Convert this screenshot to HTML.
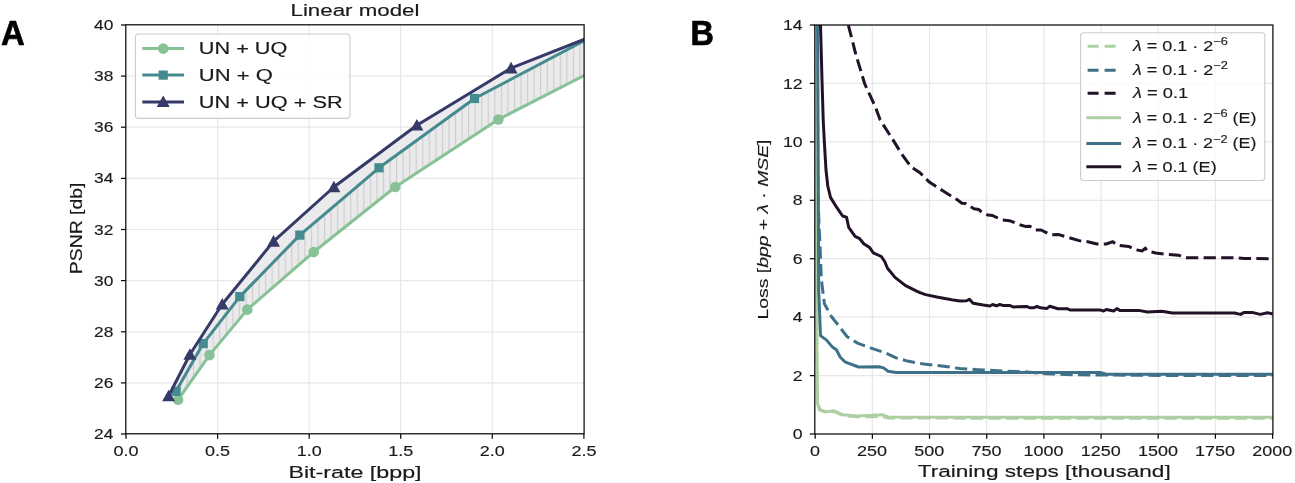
<!DOCTYPE html>
<html lang="en">
<head>
<meta charset="utf-8">
<title>Figure: rate-distortion and training loss</title>
<style>
html,body{margin:0;padding:0;background:#ffffff;}
body{width:1295px;height:483px;overflow:hidden;font-family:"Liberation Sans", sans-serif;}
svg{display:block;font-family:"Liberation Sans", sans-serif;will-change:transform;}
text{stroke:#1a1a1a;stroke-width:0.15px;stroke-linejoin:round;}
</style>
</head>
<body>
<svg width="1295" height="483" viewBox="0 0 1295 483">
<rect x="0" y="0" width="1295" height="483" fill="#ffffff"/>
<clipPath id="cl"><rect x="126.0" y="25.0" width="457.9" height="409.0"/></clipPath>
<pattern id="hatch" patternUnits="userSpaceOnUse" x="271.55" y="0" width="6.55" height="10"><rect x="0" y="0" width="6.55" height="10" fill="#eaeaeb"/><rect x="0" y="0" width="1.1" height="10" fill="#cdcdcf"/></pattern>
<line x1="217.6" y1="25.0" x2="217.6" y2="434.0" stroke="#e7e7e7" stroke-width="1.2"/>
<line x1="309.2" y1="25.0" x2="309.2" y2="434.0" stroke="#e7e7e7" stroke-width="1.2"/>
<line x1="400.7" y1="25.0" x2="400.7" y2="434.0" stroke="#e7e7e7" stroke-width="1.2"/>
<line x1="492.3" y1="25.0" x2="492.3" y2="434.0" stroke="#e7e7e7" stroke-width="1.2"/>
<line x1="126.0" y1="382.9" x2="583.9" y2="382.9" stroke="#e7e7e7" stroke-width="1.2"/>
<line x1="126.0" y1="331.8" x2="583.9" y2="331.8" stroke="#e7e7e7" stroke-width="1.2"/>
<line x1="126.0" y1="280.6" x2="583.9" y2="280.6" stroke="#e7e7e7" stroke-width="1.2"/>
<line x1="126.0" y1="229.5" x2="583.9" y2="229.5" stroke="#e7e7e7" stroke-width="1.2"/>
<line x1="126.0" y1="178.4" x2="583.9" y2="178.4" stroke="#e7e7e7" stroke-width="1.2"/>
<line x1="126.0" y1="127.2" x2="583.9" y2="127.2" stroke="#e7e7e7" stroke-width="1.2"/>
<line x1="126.0" y1="76.1" x2="583.9" y2="76.1" stroke="#e7e7e7" stroke-width="1.2"/>
<g clip-path="url(#cl)">
<polygon points="168.6,396.0 189.9,354.5 222.2,304.2 273.5,241.4 333.9,187.0 416.9,125.2 511.1,68.1 584.0,39.4 600.0,33.0 600.0,32.5 584.0,40.9 474.5,98.5 379.0,167.8 299.8,235.1 239.8,296.6 203.2,343.6 176.0,391.3" fill="#ebebed"/>
<polygon points="176.0,391.3 203.2,343.6 239.8,296.6 299.8,235.1 379.0,167.8 474.5,98.5 584.0,40.9 600.0,32.5 600.0,67.5 584.0,75.5 498.3,119.5 395.3,187.0 313.7,252.0 247.3,309.6 209.5,355.1 178.1,399.7" fill="url(#hatch)"/>
<polyline points="178.1,399.7 209.5,355.1 247.3,309.6 313.7,252.0 395.3,187.0 498.3,119.5 584.0,75.5 600.0,67.5" fill="none" stroke="#86c296" stroke-width="3.0" stroke-linejoin="round"/>
<circle cx="178.1" cy="399.7" r="5.3" fill="#86c296"/>
<circle cx="209.5" cy="355.1" r="5.3" fill="#86c296"/>
<circle cx="247.3" cy="309.6" r="5.3" fill="#86c296"/>
<circle cx="313.7" cy="252.0" r="5.3" fill="#86c296"/>
<circle cx="395.3" cy="187.0" r="5.3" fill="#86c296"/>
<circle cx="498.3" cy="119.5" r="5.3" fill="#86c296"/>
<polyline points="176.0,391.3 203.2,343.6 239.8,296.6 299.8,235.1 379.0,167.8 474.5,98.5 584.0,40.9 600.0,32.5" fill="none" stroke="#448a8e" stroke-width="3.0" stroke-linejoin="round"/>
<rect x="171.4" y="386.7" width="9.2" height="9.2" fill="#448a8e"/>
<rect x="198.6" y="339.0" width="9.2" height="9.2" fill="#448a8e"/>
<rect x="235.2" y="292.0" width="9.2" height="9.2" fill="#448a8e"/>
<rect x="295.2" y="230.5" width="9.2" height="9.2" fill="#448a8e"/>
<rect x="374.4" y="163.2" width="9.2" height="9.2" fill="#448a8e"/>
<rect x="469.9" y="93.9" width="9.2" height="9.2" fill="#448a8e"/>
<polyline points="168.6,396.0 189.9,354.5 222.2,304.2 273.5,241.4 333.9,187.0 416.9,125.2 511.1,68.1 584.0,39.4 600.0,33.0" fill="none" stroke="#363a68" stroke-width="3.0" stroke-linejoin="round"/>
<polygon points="168.6,389.7 162.1,401.3 175.1,401.3" fill="#363a68"/>
<polygon points="189.9,348.2 183.4,359.8 196.4,359.8" fill="#363a68"/>
<polygon points="222.2,297.9 215.7,309.5 228.7,309.5" fill="#363a68"/>
<polygon points="273.5,235.1 267.0,246.7 280.0,246.7" fill="#363a68"/>
<polygon points="333.9,180.7 327.4,192.3 340.4,192.3" fill="#363a68"/>
<polygon points="416.9,118.9 410.4,130.5 423.4,130.5" fill="#363a68"/>
<polygon points="511.1,61.8 504.6,73.4 517.6,73.4" fill="#363a68"/>
</g>
<rect x="125.8" y="24.8" width="458.29999999999995" height="409.0" fill="none" stroke="#0a0a0a" stroke-width="1.25"/>
<line x1="126.0" y1="434.0" x2="126.0" y2="438.8" stroke="#0a0a0a" stroke-width="1.25"/>
<text x="126.0" y="455.6" font-size="14.9" text-anchor="middle" fill="#1a1a1a" textLength="25.0" lengthAdjust="spacingAndGlyphs">0.0</text>
<line x1="217.6" y1="434.0" x2="217.6" y2="438.8" stroke="#0a0a0a" stroke-width="1.25"/>
<text x="217.6" y="455.6" font-size="14.9" text-anchor="middle" fill="#1a1a1a" textLength="25.0" lengthAdjust="spacingAndGlyphs">0.5</text>
<line x1="309.2" y1="434.0" x2="309.2" y2="438.8" stroke="#0a0a0a" stroke-width="1.25"/>
<text x="309.2" y="455.6" font-size="14.9" text-anchor="middle" fill="#1a1a1a" textLength="25.0" lengthAdjust="spacingAndGlyphs">1.0</text>
<line x1="400.7" y1="434.0" x2="400.7" y2="438.8" stroke="#0a0a0a" stroke-width="1.25"/>
<text x="400.7" y="455.6" font-size="14.9" text-anchor="middle" fill="#1a1a1a" textLength="25.0" lengthAdjust="spacingAndGlyphs">1.5</text>
<line x1="492.3" y1="434.0" x2="492.3" y2="438.8" stroke="#0a0a0a" stroke-width="1.25"/>
<text x="492.3" y="455.6" font-size="14.9" text-anchor="middle" fill="#1a1a1a" textLength="25.0" lengthAdjust="spacingAndGlyphs">2.0</text>
<line x1="583.9" y1="434.0" x2="583.9" y2="438.8" stroke="#0a0a0a" stroke-width="1.25"/>
<text x="583.9" y="455.6" font-size="14.9" text-anchor="middle" fill="#1a1a1a" textLength="25.0" lengthAdjust="spacingAndGlyphs">2.5</text>
<line x1="121.0" y1="434.0" x2="126.0" y2="434.0" stroke="#0a0a0a" stroke-width="1.25"/>
<text x="113.4" y="439.0" font-size="14.9" text-anchor="end" fill="#1a1a1a" textLength="19.3" lengthAdjust="spacingAndGlyphs">24</text>
<line x1="121.0" y1="382.9" x2="126.0" y2="382.9" stroke="#0a0a0a" stroke-width="1.25"/>
<text x="113.4" y="387.9" font-size="14.9" text-anchor="end" fill="#1a1a1a" textLength="19.3" lengthAdjust="spacingAndGlyphs">26</text>
<line x1="121.0" y1="331.8" x2="126.0" y2="331.8" stroke="#0a0a0a" stroke-width="1.25"/>
<text x="113.4" y="336.8" font-size="14.9" text-anchor="end" fill="#1a1a1a" textLength="19.3" lengthAdjust="spacingAndGlyphs">28</text>
<line x1="121.0" y1="280.6" x2="126.0" y2="280.6" stroke="#0a0a0a" stroke-width="1.25"/>
<text x="113.4" y="285.6" font-size="14.9" text-anchor="end" fill="#1a1a1a" textLength="19.3" lengthAdjust="spacingAndGlyphs">30</text>
<line x1="121.0" y1="229.5" x2="126.0" y2="229.5" stroke="#0a0a0a" stroke-width="1.25"/>
<text x="113.4" y="234.5" font-size="14.9" text-anchor="end" fill="#1a1a1a" textLength="19.3" lengthAdjust="spacingAndGlyphs">32</text>
<line x1="121.0" y1="178.4" x2="126.0" y2="178.4" stroke="#0a0a0a" stroke-width="1.25"/>
<text x="113.4" y="183.4" font-size="14.9" text-anchor="end" fill="#1a1a1a" textLength="19.3" lengthAdjust="spacingAndGlyphs">34</text>
<line x1="121.0" y1="127.2" x2="126.0" y2="127.2" stroke="#0a0a0a" stroke-width="1.25"/>
<text x="113.4" y="132.2" font-size="14.9" text-anchor="end" fill="#1a1a1a" textLength="19.3" lengthAdjust="spacingAndGlyphs">36</text>
<line x1="121.0" y1="76.1" x2="126.0" y2="76.1" stroke="#0a0a0a" stroke-width="1.25"/>
<text x="113.4" y="81.1" font-size="14.9" text-anchor="end" fill="#1a1a1a" textLength="19.3" lengthAdjust="spacingAndGlyphs">38</text>
<line x1="121.0" y1="25.0" x2="126.0" y2="25.0" stroke="#0a0a0a" stroke-width="1.25"/>
<text x="113.4" y="30.0" font-size="14.9" text-anchor="end" fill="#1a1a1a" textLength="19.3" lengthAdjust="spacingAndGlyphs">40</text>
<text x="355.0" y="16.0" font-size="16.3" text-anchor="middle" fill="#1a1a1a" textLength="129.0" lengthAdjust="spacingAndGlyphs">Linear model</text>
<text x="355.0" y="477.7" font-size="16.3" text-anchor="middle" fill="#1a1a1a" textLength="133.2" lengthAdjust="spacingAndGlyphs">Bit-rate [bpp]</text>
<text transform="translate(82.3,228.4) rotate(-90)" font-size="16.3" text-anchor="middle" fill="#1a1a1a" textLength="91.5" lengthAdjust="spacingAndGlyphs">PSNR [db]</text>
<rect x="135.4" y="34" width="214.6" height="84.4" rx="3.2" fill="#ffffff" fill-opacity="0.8" stroke="#cccccc" stroke-width="1.1"/>
<line x1="142.3" y1="48.6" x2="184" y2="48.6" stroke="#86c296" stroke-width="3.0"/>
<circle cx="163.2" cy="48.6" r="5.3" fill="#86c296"/>
<text x="198.8" y="54.4" font-size="16.3" text-anchor="start" fill="#1a1a1a" textLength="88.6" lengthAdjust="spacingAndGlyphs">UN + UQ</text>
<line x1="142.3" y1="75.1" x2="184" y2="75.1" stroke="#448a8e" stroke-width="3.0"/>
<rect x="158.6" y="70.5" width="9.2" height="9.2" fill="#448a8e"/>
<text x="198.8" y="80.9" font-size="16.3" text-anchor="start" fill="#1a1a1a" textLength="74.0" lengthAdjust="spacingAndGlyphs">UN + Q</text>
<line x1="142.3" y1="102.0" x2="184" y2="102.0" stroke="#363a68" stroke-width="3.0"/>
<polygon points="163.2,95.4 156.7,107.0 169.7,107.0" fill="#363a68"/>
<text x="198.8" y="107.8" font-size="16.3" text-anchor="start" fill="#1a1a1a" textLength="143.8" lengthAdjust="spacingAndGlyphs">UN + UQ + SR</text>
<text x="0.9" y="45.1" font-size="34.3" text-anchor="start" fill="#000" textLength="23.8" lengthAdjust="spacingAndGlyphs" font-weight="bold" style="stroke:#000;stroke-width:0.7px">A</text>
<clipPath id="cr"><rect x="815.2" y="25.0" width="457.39999999999986" height="409.0"/></clipPath>
<line x1="872.4" y1="25.0" x2="872.4" y2="434.0" stroke="#e7e7e7" stroke-width="1.2"/>
<line x1="929.5" y1="25.0" x2="929.5" y2="434.0" stroke="#e7e7e7" stroke-width="1.2"/>
<line x1="986.7" y1="25.0" x2="986.7" y2="434.0" stroke="#e7e7e7" stroke-width="1.2"/>
<line x1="1043.9" y1="25.0" x2="1043.9" y2="434.0" stroke="#e7e7e7" stroke-width="1.2"/>
<line x1="1101.1" y1="25.0" x2="1101.1" y2="434.0" stroke="#e7e7e7" stroke-width="1.2"/>
<line x1="1158.2" y1="25.0" x2="1158.2" y2="434.0" stroke="#e7e7e7" stroke-width="1.2"/>
<line x1="1215.4" y1="25.0" x2="1215.4" y2="434.0" stroke="#e7e7e7" stroke-width="1.2"/>
<line x1="815.2" y1="375.6" x2="1272.6" y2="375.6" stroke="#e7e7e7" stroke-width="1.2"/>
<line x1="815.2" y1="317.1" x2="1272.6" y2="317.1" stroke="#e7e7e7" stroke-width="1.2"/>
<line x1="815.2" y1="258.7" x2="1272.6" y2="258.7" stroke="#e7e7e7" stroke-width="1.2"/>
<line x1="815.2" y1="200.3" x2="1272.6" y2="200.3" stroke="#e7e7e7" stroke-width="1.2"/>
<line x1="815.2" y1="141.9" x2="1272.6" y2="141.9" stroke="#e7e7e7" stroke-width="1.2"/>
<line x1="815.2" y1="83.4" x2="1272.6" y2="83.4" stroke="#e7e7e7" stroke-width="1.2"/>
<g clip-path="url(#cr)" fill="none" stroke-linejoin="round">
<polyline points="815.9,0.0 816.3,250.0 817.3,400.0 819.0,409.5 826.0,412.3 834.0,411.5 842.6,415.5 857.4,416.8 882.4,416.4 888.1,418.0 1005.0,418.2 1273.0,418.2" stroke="#aecfa2" stroke-width="3.0" stroke-dasharray="12.3 5.3"/>
<polyline points="817.5,0.0 817.6,120.0 818.0,200.0 819.8,241.0 821.4,279.7 824.4,303.7 831.2,316.2 839.2,326.4 847.1,336.7 857.4,343.1 871.1,348.1 884.7,352.6 896.1,357.9 907.5,361.1 923.5,364.0 941.7,365.9 959.9,368.6 978.1,369.7 1005.0,371.2 1027.6,371.9 1046.0,373.8 1074.0,374.8 1100.0,375.0 1160.0,375.4 1273.0,375.6" stroke="#3e7088" stroke-width="3.0" stroke-dasharray="12.3 5.3"/>
<polyline points="843.0,0.0 848.3,25.0 856.0,55.0 864.7,83.8 875.0,106.0 880.2,120.0 892.7,139.4 901.8,154.2 910.9,166.7 920.0,172.8 929.3,182.1 942.4,190.5 957.3,199.8 961.9,203.2 965.6,203.5 974.0,208.7 978.7,209.5 981.5,211.9 988.0,215.1 992.7,215.6 1002.0,219.9 1009.4,220.7 1020.6,225.0 1025.3,226.4 1029.9,226.3 1035.5,230.0 1041.1,230.0 1050.4,234.8 1058.8,234.6 1067.2,237.1 1078.3,240.4 1082.1,241.3 1087.7,241.7 1097.0,244.0 1106.3,244.0 1112.8,241.7 1117.5,245.4 1128.6,246.4 1135.0,249.6 1142.2,250.9 1145.4,248.2 1147.4,250.9 1155.7,253.0 1166.0,254.4 1178.5,255.2 1184.7,257.7 1234.4,257.7 1244.7,258.5 1273.0,258.8" stroke="#211228" stroke-width="3.0" stroke-dasharray="12.3 5.3" stroke-dashoffset="9.3"/>
<polyline points="815.6,0.0 816.2,200.0 816.8,340.0 817.5,403.8 820.9,410.6 827.8,411.8 833.5,410.6 842.6,414.7 857.4,415.9 882.4,414.7 888.1,417.0 1005.0,417.3 1273.0,417.2" stroke="#aecfa2" stroke-width="3.0"/>
<polyline points="817.3,0.0 817.6,25.0 818.7,290.0 820.5,335.6 826.6,340.1 832.3,346.9 836.4,349.7 840.3,357.2 844.9,361.8 858.5,367.0 879.0,366.8 883.6,367.9 888.1,371.3 896.1,372.6 1005.0,372.5 1100.4,372.4 1106.2,374.3 1273.0,374.3" stroke="#3e7088" stroke-width="3.0"/>
<polyline points="819.6,0.0 820.5,25.0 822.0,80.0 823.2,120.0 824.4,142.8 826.0,170.0 827.8,186.0 830.5,197.4 836.9,207.7 842.6,216.0 846.5,217.1 848.7,227.3 855.1,236.4 859.7,238.7 863.8,243.7 869.9,247.8 873.3,252.8 881.3,256.5 884.7,261.5 887.5,268.3 895.0,277.4 905.2,285.4 916.6,291.1 920.0,292.7 925.6,294.6 936.8,297.0 951.7,299.8 960.1,301.1 966.6,300.7 969.4,299.2 973.1,303.2 983.3,305.0 989.9,306.0 992.7,304.5 996.4,305.8 999.7,304.5 1002.9,305.4 1009.4,305.4 1013.1,306.9 1027.1,306.5 1029.9,307.8 1033.6,307.8 1037.0,306.3 1040.2,307.8 1046.7,308.6 1049.8,306.3 1057.9,308.7 1067.2,308.7 1070.0,310.0 1099.8,309.9 1103.5,311.0 1106.3,309.5 1113.7,311.0 1116.9,308.6 1120.3,310.6 1140.0,310.6 1147.4,312.0 1161.9,311.3 1172.3,313.0 1234.4,313.0 1240.6,314.4 1243.7,312.6 1253.0,312.6 1260.3,314.4 1267.5,312.8 1273.0,314.0" stroke="#211228" stroke-width="3.0"/>
</g>
<rect x="814.8" y="25.0" width="458.10000000000014" height="409.0" fill="none" stroke="#0a0a0a" stroke-width="1.25"/>
<line x1="815.2" y1="434.0" x2="815.2" y2="438.8" stroke="#0a0a0a" stroke-width="1.25"/>
<text x="814.9" y="455.6" font-size="14.9" text-anchor="middle" fill="#1a1a1a" textLength="10.0" lengthAdjust="spacingAndGlyphs">0</text>
<line x1="872.4" y1="434.0" x2="872.4" y2="438.8" stroke="#0a0a0a" stroke-width="1.25"/>
<text x="872.1" y="455.6" font-size="14.9" text-anchor="middle" fill="#1a1a1a" textLength="30.0" lengthAdjust="spacingAndGlyphs">250</text>
<line x1="929.5" y1="434.0" x2="929.5" y2="438.8" stroke="#0a0a0a" stroke-width="1.25"/>
<text x="929.2" y="455.6" font-size="14.9" text-anchor="middle" fill="#1a1a1a" textLength="30.0" lengthAdjust="spacingAndGlyphs">500</text>
<line x1="986.7" y1="434.0" x2="986.7" y2="438.8" stroke="#0a0a0a" stroke-width="1.25"/>
<text x="986.4" y="455.6" font-size="14.9" text-anchor="middle" fill="#1a1a1a" textLength="30.0" lengthAdjust="spacingAndGlyphs">750</text>
<line x1="1043.9" y1="434.0" x2="1043.9" y2="438.8" stroke="#0a0a0a" stroke-width="1.25"/>
<text x="1043.6" y="455.6" font-size="14.9" text-anchor="middle" fill="#1a1a1a" textLength="40.0" lengthAdjust="spacingAndGlyphs">1000</text>
<line x1="1101.1" y1="434.0" x2="1101.1" y2="438.8" stroke="#0a0a0a" stroke-width="1.25"/>
<text x="1100.8" y="455.6" font-size="14.9" text-anchor="middle" fill="#1a1a1a" textLength="40.0" lengthAdjust="spacingAndGlyphs">1250</text>
<line x1="1158.2" y1="434.0" x2="1158.2" y2="438.8" stroke="#0a0a0a" stroke-width="1.25"/>
<text x="1158.0" y="455.6" font-size="14.9" text-anchor="middle" fill="#1a1a1a" textLength="40.0" lengthAdjust="spacingAndGlyphs">1500</text>
<line x1="1215.4" y1="434.0" x2="1215.4" y2="438.8" stroke="#0a0a0a" stroke-width="1.25"/>
<text x="1215.1" y="455.6" font-size="14.9" text-anchor="middle" fill="#1a1a1a" textLength="40.0" lengthAdjust="spacingAndGlyphs">1750</text>
<line x1="1272.6" y1="434.0" x2="1272.6" y2="438.8" stroke="#0a0a0a" stroke-width="1.25"/>
<text x="1272.3" y="455.6" font-size="14.9" text-anchor="middle" fill="#1a1a1a" textLength="40.0" lengthAdjust="spacingAndGlyphs">2000</text>
<line x1="809.8" y1="434.0" x2="814.8" y2="434.0" stroke="#0a0a0a" stroke-width="1.25"/>
<text x="802.6" y="439.1" font-size="14.9" text-anchor="end" fill="#1a1a1a" textLength="9.8" lengthAdjust="spacingAndGlyphs">0</text>
<line x1="809.8" y1="375.6" x2="814.8" y2="375.6" stroke="#0a0a0a" stroke-width="1.25"/>
<text x="802.6" y="380.7" font-size="14.9" text-anchor="end" fill="#1a1a1a" textLength="9.8" lengthAdjust="spacingAndGlyphs">2</text>
<line x1="809.8" y1="317.1" x2="814.8" y2="317.1" stroke="#0a0a0a" stroke-width="1.25"/>
<text x="802.6" y="322.2" font-size="14.9" text-anchor="end" fill="#1a1a1a" textLength="9.8" lengthAdjust="spacingAndGlyphs">4</text>
<line x1="809.8" y1="258.7" x2="814.8" y2="258.7" stroke="#0a0a0a" stroke-width="1.25"/>
<text x="802.6" y="263.8" font-size="14.9" text-anchor="end" fill="#1a1a1a" textLength="9.8" lengthAdjust="spacingAndGlyphs">6</text>
<line x1="809.8" y1="200.3" x2="814.8" y2="200.3" stroke="#0a0a0a" stroke-width="1.25"/>
<text x="802.6" y="205.4" font-size="14.9" text-anchor="end" fill="#1a1a1a" textLength="9.8" lengthAdjust="spacingAndGlyphs">8</text>
<line x1="809.8" y1="141.9" x2="814.8" y2="141.9" stroke="#0a0a0a" stroke-width="1.25"/>
<text x="802.6" y="147.0" font-size="14.9" text-anchor="end" fill="#1a1a1a" textLength="19.6" lengthAdjust="spacingAndGlyphs">10</text>
<line x1="809.8" y1="83.4" x2="814.8" y2="83.4" stroke="#0a0a0a" stroke-width="1.25"/>
<text x="802.6" y="88.5" font-size="14.9" text-anchor="end" fill="#1a1a1a" textLength="19.6" lengthAdjust="spacingAndGlyphs">12</text>
<line x1="809.8" y1="25.0" x2="814.8" y2="25.0" stroke="#0a0a0a" stroke-width="1.25"/>
<text x="802.6" y="30.1" font-size="14.9" text-anchor="end" fill="#1a1a1a" textLength="19.6" lengthAdjust="spacingAndGlyphs">14</text>
<text x="1044.2" y="477.4" font-size="16.3" text-anchor="middle" fill="#1a1a1a" textLength="253.0" lengthAdjust="spacingAndGlyphs">Training steps [thousand]</text>
<text transform="translate(768.2,229.5) rotate(-90)" font-size="14.6" text-anchor="middle" fill="#1a1a1a" textLength="180" lengthAdjust="spacingAndGlyphs">Loss [<tspan font-style="italic">bpp</tspan> + <tspan font-style="italic">λ</tspan> · <tspan font-style="italic">MSE</tspan>]</text>
<rect x="1080.6" y="32.7" width="184.2" height="147.8" rx="3" fill="#ffffff" fill-opacity="0.8" stroke="#cccccc" stroke-width="1.1"/>
<line x1="1087.6" y1="46.2" x2="1115.6" y2="46.2" stroke="#aecfa2" stroke-width="3.0" stroke-dasharray="11 6"/>
<text x="1133.0" y="51.2" font-size="14.5" text-anchor="start" fill="#1a1a1a" textLength="94.9" lengthAdjust="spacingAndGlyphs"><tspan font-style="italic">λ</tspan> = 0.1 · 2<tspan font-size="10.3" dy="-5.8">−6</tspan><tspan dy="5.8"> </tspan></text>
<line x1="1087.6" y1="70.2" x2="1115.6" y2="70.2" stroke="#3e7088" stroke-width="3.0" stroke-dasharray="11 6"/>
<text x="1133.0" y="75.2" font-size="14.5" text-anchor="start" fill="#1a1a1a" textLength="94.9" lengthAdjust="spacingAndGlyphs"><tspan font-style="italic">λ</tspan> = 0.1 · 2<tspan font-size="10.3" dy="-5.8">−2</tspan><tspan dy="5.8"> </tspan></text>
<line x1="1087.6" y1="93.2" x2="1115.6" y2="93.2" stroke="#211228" stroke-width="3.0" stroke-dasharray="11 6"/>
<text x="1133.0" y="98.2" font-size="14.5" text-anchor="start" fill="#1a1a1a" textLength="55.1" lengthAdjust="spacingAndGlyphs"><tspan font-style="italic">λ</tspan> = 0.1</text>
<line x1="1086.4" y1="117.8" x2="1121.2" y2="117.8" stroke="#aecfa2" stroke-width="3.0"/>
<text x="1133.0" y="122.8" font-size="14.5" text-anchor="start" fill="#1a1a1a" textLength="123.5" lengthAdjust="spacingAndGlyphs"><tspan font-style="italic">λ</tspan> = 0.1 · 2<tspan font-size="10.3" dy="-5.8">−6</tspan><tspan dy="5.8"> </tspan>(E)</text>
<line x1="1086.4" y1="143.4" x2="1121.2" y2="143.4" stroke="#3e7088" stroke-width="3.0"/>
<text x="1133.0" y="148.4" font-size="14.5" text-anchor="start" fill="#1a1a1a" textLength="123.5" lengthAdjust="spacingAndGlyphs"><tspan font-style="italic">λ</tspan> = 0.1 · 2<tspan font-size="10.3" dy="-5.8">−2</tspan><tspan dy="5.8"> </tspan>(E)</text>
<line x1="1086.4" y1="166.8" x2="1121.2" y2="166.8" stroke="#211228" stroke-width="3.0"/>
<text x="1133.0" y="171.8" font-size="14.5" text-anchor="start" fill="#1a1a1a" textLength="83.7" lengthAdjust="spacingAndGlyphs"><tspan font-style="italic">λ</tspan> = 0.1 (E)</text>
<text x="690.6" y="45.1" font-size="34.3" text-anchor="start" fill="#000" textLength="23.4" lengthAdjust="spacingAndGlyphs" font-weight="bold" style="stroke:#000;stroke-width:0.7px">B</text>
</svg>
</body>
</html>
